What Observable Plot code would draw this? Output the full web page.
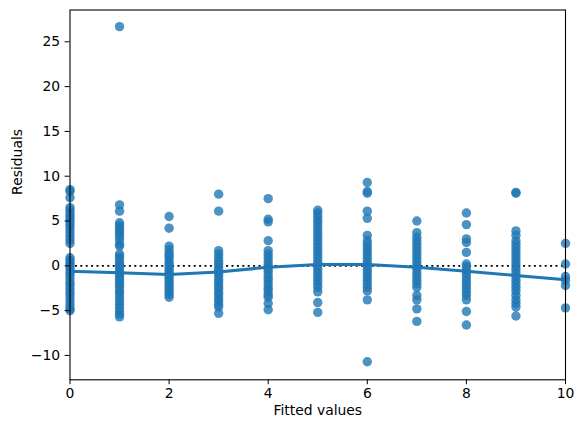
<!DOCTYPE html>
<html>
<head>
<meta charset="utf-8">
<script src="https://cdn.jsdelivr.net/npm/d3@7"></script>
<script src="https://cdn.jsdelivr.net/npm/@observablehq/plot@0.6"></script>
<style>
  html, body { margin: 0; padding: 0; background: #fff; }
  #chart { width: 583px; height: 432px; }
</style>
</head>
<body>
<div id="chart"></div>
<script>
// Residuals at each fitted value
const res0 = [8.5, 8.3, 7.6, 6.5, 6.2, 5.8, 5.5, 5.2, 4.8, 4.5, 4.1, 3.7, 3.3, 2.9, 2.5, 0.9, 0.6, 0.3, 0.0, -0.3, -0.7, -1.0, -1.4, -1.8, -2.1, -2.5, -2.9, -3.2, -3.6, -4.0, -4.4, -4.8, -5.0];
const res1 = [26.7, 6.8, 6.1, 4.8, 4.5, 4.2, 3.9, 3.6, 3.3, 2.9, 2.4, 2.2, 1.3, 1.0, 0.7, 0.3, 0.0, -0.3, -0.6, -0.9, -1.2, -1.5, -1.8, -2.1, -2.4, -2.8, -3.1, -3.5, -3.9, -4.3, -4.7, -5.1, -5.4, -5.7];
const res2 = [5.5, 4.2, 2.2, 1.8, 1.4, 1.1, 0.8, 0.4, 0.1, -0.2, -0.5, -0.8, -1.1, -1.4, -1.7, -2.0, -2.3, -2.6, -2.9, -3.2, -3.5];
const res3 = [8.0, 6.1, 1.7, 1.3, 0.9, 0.5, 0.2, -0.2, -0.5, -0.8, -1.1, -1.5, -1.8, -2.2, -2.5, -2.9, -3.2, -3.6, -3.9, -4.3, -4.6, -5.3];
const res4 = [7.5, 5.2, 4.9, 2.8, 1.7, 1.3, 0.9, 0.5, 0.1, -0.3, -0.6, -1.0, -1.4, -1.7, -2.1, -2.5, -2.8, -3.2, -3.5, -4.2, -4.9];
const res5 = [6.2, 5.9, 5.5, 5.1, 4.8, 4.4, 4.0, 3.6, 3.2, 2.8, 2.4, 2.0, 1.6, 1.2, 0.8, 0.4, 0.0, -0.4, -0.8, -1.2, -1.6, -2.0, -2.4, -2.9, -4.1, -5.2];
const res6 = [9.3, 8.3, 8.1, 6.1, 5.3, 3.4, 2.8, 2.4, 2.0, 1.6, 1.2, 0.8, 0.4, 0.0, -0.4, -0.8, -1.2, -1.6, -2.0, -2.4, -2.8, -3.8, -10.7];
const res7 = [5.0, 3.7, 3.2, 2.8, 2.4, 2.0, 1.6, 1.2, 0.8, 0.4, 0.0, -0.4, -0.8, -1.2, -1.6, -2.0, -2.4, -3.3, -3.8, -4.8, -6.2];
const res8 = [5.9, 4.6, 3.0, 2.6, 1.5, 0.2, -0.1, -0.5, -0.9, -1.3, -1.7, -2.1, -2.5, -2.9, -3.3, -3.8, -5.1, -6.6];
const res9 = [8.2, 8.1, 3.9, 3.4, 2.8, 2.4, 2.0, 1.6, 1.2, 0.8, 0.4, 0.0, -0.4, -0.8, -1.2, -1.6, -2.0, -2.4, -2.8, -3.3, -3.8, -4.2, -4.6, -5.6];
const res10 = [2.5, 0.2, -1.2, -1.6, -2.2, -4.7];

const fittedValues = [0, 1, 2, 3, 4, 5, 6, 7, 8, 9, 10];
const lowessValues = [-0.6, -0.78, -0.97, -0.7, -0.15, 0.15, 0.15, -0.15, -0.6, -1.08, -1.56];
const xTicks = [0, 2, 4, 6, 8, 10];
const yTicks = [-10, -5, 0, 5, 10, 15, 20, 25];

const columns = [res0, res1, res2, res3, res4, res5, res6, res7, res8, res9, res10];
const points = columns.flatMap((col, i) => col.map(r => ({x: fittedValues[i], y: r})));
const lowess = fittedValues.map((x, i) => ({x, y: lowessValues[i]}));

const blue = "#1f77b4";
const fs = 13.9;

const chart = Plot.plot({
  width: 583,
  height: 432,
  marginLeft: 69.5,
  marginRight: 18,
  marginTop: 9.5,
  marginBottom: 52.7,
  style: {fontFamily: "DejaVu Sans", fontSize: fs + "px", color: "#000", background: "#fff"},
  x: {domain: [0, 10]},
  y: {domain: [-12.72, 28.55]},
  marks: [
    Plot.ruleY([0], {stroke: "#000", strokeWidth: 1.7, strokeDasharray: "2,3.4"}),
    Plot.dot(points, {x: "x", y: "y", r: 4.7, fill: blue, fillOpacity: 0.8, stroke: "none"}),
    Plot.line(lowess, {x: "x", y: "y", stroke: blue, strokeWidth: 3}),
    Plot.frame({stroke: "#000", strokeWidth: 1.1}),
    Plot.axisX(xTicks, {tickSize: 4.9, tickPadding: 3, label: null, stroke: "#000", fontSize: fs}),
    Plot.axisY(yTicks, {tickSize: 4.9, tickPadding: 5, label: null, stroke: "#000", tickFormat: d => d < 0 ? "\u2212" + Math.abs(d) : String(d), fontSize: fs}),
    Plot.text(["Fitted values"], {frameAnchor: "bottom", text: d => d, dy: 35.5, fontSize: fs, fill: "#000"}),
    Plot.text(["Residuals"], {frameAnchor: "left", text: d => d, dx: -52.3, rotate: -90, fontSize: fs, fill: "#000"})
  ]
});
document.getElementById("chart").appendChild(chart);
</script>
</body>
</html>
